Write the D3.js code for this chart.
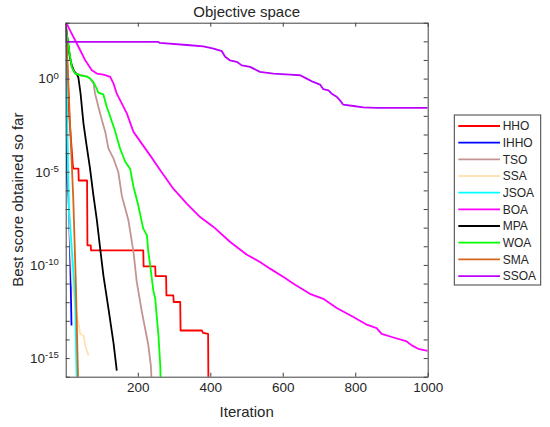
<!DOCTYPE html>
<html>
<head>
<meta charset="utf-8">
<script src="https://cdn.jsdelivr.net/npm/d3@7"></script>
<style>
  body { margin: 0; background: #fff; }
  text { font-family: "Liberation Sans", Arial, sans-serif; fill: #262626; }
</style>
</head>
<body>
<div id="chart"></div>
<script>
// series names, in legend order
var names = ["HHO", "IHHO", "TSO", "SSA", "JSOA", "BOA", "MPA", "WOA", "SMA", "SSOA"];
var colors = ["#ff0000", "#0000ff", "#c49494", "#ffe2b4", "#00ffff", "#ff00ff", "#000000", "#00ff00", "#d5661a", "#bb00ff"];

// iteration / log10(best score)
var hhoIt  = [1, 5, 11, 15, 21, 22, 36, 37, 60, 61, 70, 71, 215, 216, 248, 249, 278, 279, 298, 299, 317, 318, 377, 380, 394, 395];
var hhoLog = [3, 1.0, -2.04, -3.11, -4.73, -4.83, -4.83, -5.47, -5.47, -8.95, -8.95, -9.22, -9.22, -10.08, -10.08, -10.6, -10.6, -11.64, -11.64, -11.99, -11.99, -13.52, -13.52, -13.65, -13.7, -17];

var ihhoIt  = [1, 3, 5, 9, 13, 17];
var ihhoLog = [3, -2, -5.5, -6.4, -9.1, -13.25];

var tsoIt  = [1, 4, 11, 18, 27, 41, 59, 68, 78, 82, 91, 101, 110, 119, 133, 146, 156, 165, 174, 183, 188, 197, 211, 220, 229, 236, 240];
var tsoLog = [3, 2.3, 1.3, 0.6, 0.3, 0.2, 0.12, 0.0, -0.27, -0.8, -1.5, -2.24, -2.85, -3.76, -4.3, -5.0, -6.3, -6.95, -7.6, -8.7, -9.3, -10.9, -12.5, -13.4, -14.3, -15.4, -17];

var ssaIt  = [1, 5, 12, 18, 22, 27, 36, 41, 50, 55, 64];
var ssaLog = [3, -3, -8, -10.5, -11.5, -12.17, -13.07, -13.7, -13.79, -14.32, -14.87];

var jsoaIt  = [1, 9, 11, 22, 27, 31, 32];
var jsoaLog = [3, -6.6, -7.2, -10.3, -11.8, -15.9, -17];

var boaIt  = [1, 4, 13, 27, 41, 55, 73, 87, 105, 124, 133, 142, 156, 170, 183, 188, 234, 262, 298, 335, 372, 409, 455, 501, 537, 565, 602, 634, 675, 712, 749, 795, 832, 859, 873, 901, 942, 956, 974, 1000];
var boaLog = [3, 2.95, 2.59, 2.06, 1.52, 0.98, 0.45, 0.27, 0.21, 0.09, -0.27, -0.81, -1.34, -1.88, -2.59, -2.86, -4.12, -4.92, -5.91, -6.71, -7.43, -7.96, -8.77, -9.45, -9.84, -10.2, -10.65, -11.06, -11.55, -11.82, -12.31, -12.8, -13.21, -13.39, -13.7, -13.87, -14.11, -14.32, -14.5, -14.62];

var mpaIt  = [1, 4, 9, 13, 18, 24, 32, 36, 42, 50, 58, 68, 77, 87, 96, 105, 119, 133, 142];
var mpaLog = [3, 2.4, 1.7, 1.1, 0.7, 0.4, 0.22, 0.05, -0.8, -2.4, -3.5, -4.8, -6.2, -7.6, -9.1, -10.56, -12.35, -14.2, -15.67];

var woaIt  = [1, 4, 11, 18, 27, 41, 59, 68, 78, 87, 91, 105, 114, 124, 137, 151, 165, 179, 188, 200, 215, 225, 229, 234, 243, 248, 252, 257, 262, 264];
var woaLog = [3, 2.4, 1.45, 0.6, 0.28, 0.17, 0.1, 0.02, -0.2, -0.55, -0.75, -0.85, -1.5, -2.05, -2.8, -3.75, -4.45, -4.85, -5.8, -6.7, -8.05, -8.4, -9.3, -10.0, -11.4, -11.8, -12.7, -13.8, -15.4, -17];

var smaIt  = [1, 11, 22, 29, 35, 36];
var smaLog = [3, -1.5, -6.5, -11, -16, -17];

var ssoaIt  = [1, 2, 257, 260, 344, 381, 409, 432, 441, 454, 473, 487, 510, 528, 537, 574, 620, 648, 666, 684, 703, 712, 726, 735, 749, 758, 767, 795, 822, 859, 1000];
var ssoaLog = [3, 1.97, 1.97, 1.92, 1.79, 1.73, 1.61, 1.47, 1.17, 0.98, 0.9, 0.71, 0.63, 0.45, 0.36, 0.27, 0.21, 0.18, 0.0, -0.18, -0.32, -0.57, -0.63, -0.81, -0.98, -1.17, -1.4, -1.47, -1.54, -1.57, -1.57];

var itArrays  = [hhoIt, ihhoIt, tsoIt, ssaIt, jsoaIt, boaIt, mpaIt, woaIt, smaIt, ssoaIt];
var logArrays = [hhoLog, ihhoLog, tsoLog, ssaLog, jsoaLog, boaLog, mpaLog, woaLog, smaLog, ssoaLog];

var xTicks = [200, 400, 600, 800, 1000];
var yLabelled = [0, -5, -10, -15];

var W = 550, H = 427;
var plotL = 65.7, plotR = 427.7, plotT = 22.7, plotB = 376.7;

var svg = d3.select("#chart").append("svg")
    .attr("width", W)
    .attr("height", H);

var x = d3.scaleLinear().domain([1, 1000]).range([plotL, plotR]);
var y = d3.scaleLog().domain([1e-16, 1e3]).range([plotB, plotT]);

var decades = d3.range(-16, 4).map(function(e) { return Math.pow(10, e); });

svg.append("defs").append("clipPath").attr("id", "clip")
  .append("rect")
    .attr("x", plotL).attr("y", plotT)
    .attr("width", plotR - plotL).attr("height", plotB - plotT);

// curves
var line = d3.line()
    .x(function(d) { return x(d[0]); })
    .y(function(d) { return y(Math.pow(10, d[1])); });

var curves = svg.append("g").attr("clip-path", "url(#clip)");
names.forEach(function(n, i) {
  var pts = itArrays[i].map(function(it, j) { return [it, logArrays[i][j]]; });
  curves.append("path")
      .datum(pts)
      .attr("fill", "none")
      .attr("stroke", colors[i])
      .attr("stroke-width", 1.8)
      .attr("stroke-linejoin", "round")
      .attr("d", line);
});

// axes
var axisColor = "#404040";

var xAxis = svg.append("g")
    .attr("transform", "translate(0," + plotB + ")")
    .call(d3.axisBottom(x).tickValues(xTicks).tickSizeInner(-4).tickSizeOuter(0).tickPadding(6).tickFormat(d3.format("d")));
svg.append("g")
    .attr("transform", "translate(0," + plotT + ")")
    .call(d3.axisTop(x).tickValues(xTicks).tickSizeInner(-4).tickSizeOuter(0).tickFormat(""));

var yAxis = svg.append("g")
    .attr("transform", "translate(" + plotL + ",0)")
    .call(d3.axisLeft(y).tickValues(decades).tickSizeInner(-4).tickSizeOuter(0).tickPadding(7).tickFormat(""));
svg.append("g")
    .attr("transform", "translate(" + plotR + ",0)")
    .call(d3.axisRight(y).tickValues(decades).tickSizeInner(-4).tickSizeOuter(0).tickFormat(""));

svg.selectAll(".domain, .tick line").attr("stroke", axisColor);
svg.selectAll(".tick text").attr("font-family", null).attr("fill", "#262626");

xAxis.selectAll(".tick text").attr("font-size", "13.5px");

// powers of ten on the y axis
yAxis.selectAll(".tick text").each(function(d) {
  var e = Math.round(Math.log10(d));
  var t = d3.select(this).attr("font-size", "13.5px");
  if (yLabelled.indexOf(e) < 0) return;
  t.append("tspan").text("10");
  t.append("tspan").attr("dy", "-0.5em").attr("font-size", "9.5px").text(e);
});

// title and labels
svg.append("text")
    .attr("x", (plotL + plotR) / 2).attr("y", 17)
    .attr("text-anchor", "middle")
    .attr("font-size", "15px")
    .text("Objective space");

svg.append("text")
    .attr("x", (plotL + plotR) / 2).attr("y", 417)
    .attr("text-anchor", "middle")
    .attr("font-size", "15px")
    .text("Iteration");

svg.append("text")
    .attr("transform", "translate(23," + (plotT + plotB) / 2 + ") rotate(-90)")
    .attr("text-anchor", "middle")
    .attr("font-size", "15px")
    .text("Best score obtained so far");

// legend
var lg = svg.append("g");
lg.append("rect")
    .attr("x", 454.3).attr("y", 115)
    .attr("width", 86.4).attr("height", 170)
    .attr("fill", "#fff")
    .attr("stroke", axisColor);

names.forEach(function(n, i) {
  var ly = 126 + i * 16.67;
  lg.append("line")
      .attr("x1", 458.3).attr("x2", 500)
      .attr("y1", ly).attr("y2", ly)
      .attr("stroke", colors[i])
      .attr("stroke-width", 1.8);
  lg.append("text")
      .attr("x", 502.7).attr("y", ly)
      .attr("dy", "0.35em")
      .attr("font-size", "12px")
      .text(n);
});
</script>
</body>
</html>
